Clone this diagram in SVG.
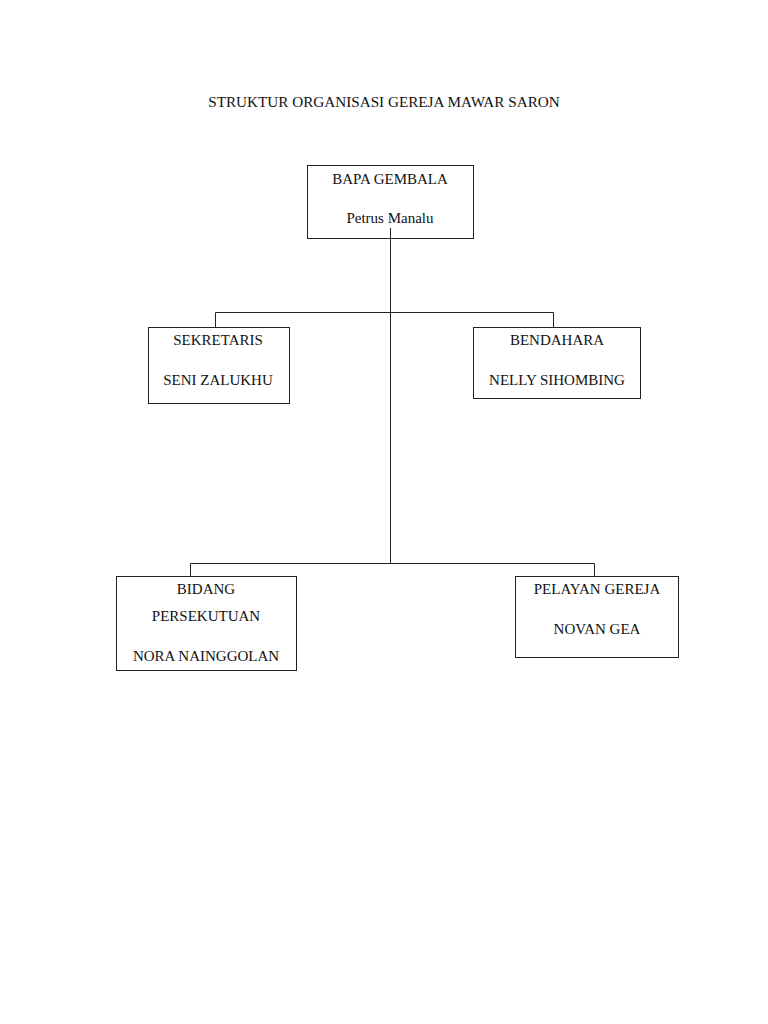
<svg xmlns="http://www.w3.org/2000/svg" width="768" height="1024" viewBox="0 0 768 1024">
<style>
text{font-family:"Liberation Serif","Times New Roman",serif;font-size:15px;fill:#111;text-anchor:middle}
.box{fill:none;stroke:#222;stroke-width:1}
.ln{fill:none;stroke:#222;stroke-width:1}
</style>
<rect width="768" height="1024" fill="#fff"/>
<text x="384" y="107" style="font-size:15.2px">STRUKTUR ORGANISASI GEREJA MAWAR SARON</text>
<g id="connectors">
<path class="ln" d="M390.5 228V563.5M215.5 327V312.5H553.5V327M190.5 576V563.5H594.5V576"/>
</g>
<g id="bapa">
<rect class="box" x="307.5" y="165.5" width="166" height="73"/>
<text x="390" y="184">BAPA GEMBALA</text>
<text x="390" y="223">Petrus Manalu</text>
</g>
<g id="sekretaris">
<rect class="box" x="148.5" y="327.5" width="141" height="76"/>
<text x="218" y="345">SEKRETARIS</text>
<text x="218" y="385">SENI ZALUKHU</text>
</g>
<g id="bendahara">
<rect class="box" x="473.5" y="327.5" width="167" height="71"/>
<text x="557" y="345">BENDAHARA</text>
<text x="557" y="385">NELLY SIHOMBING</text>
</g>
<g id="bidang">
<rect class="box" x="116.5" y="576.5" width="180" height="94"/>
<text x="206" y="594">BIDANG</text>
<text x="206" y="621">PERSEKUTUAN</text>
<text x="206" y="661">NORA NAINGGOLAN</text>
</g>
<g id="pelayan">
<rect class="box" x="515.5" y="576.5" width="163" height="81"/>
<text x="597" y="594">PELAYAN GEREJA</text>
<text x="597" y="634">NOVAN GEA</text>
</g>
</svg>
